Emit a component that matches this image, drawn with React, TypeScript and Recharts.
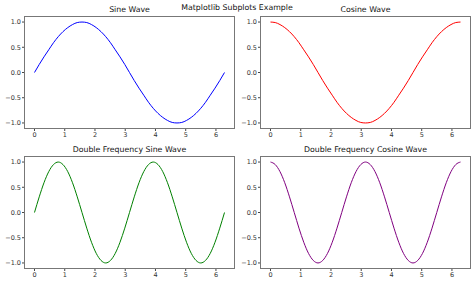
import { type FC } from "react";
import { LineChart, Line, XAxis, YAxis } from "recharts";

// x samples from 0 to 2π
const xs = [
  0, 0.157, 0.314, 0.471, 0.628, 0.785, 0.942, 1.1, 1.257, 1.414, 1.571,
  1.728, 1.885, 2.042, 2.199, 2.356, 2.513, 2.67, 2.827, 2.985, 3.142,
  3.299, 3.456, 3.613, 3.77, 3.927, 4.084, 4.241, 4.398, 4.555, 4.712,
  4.869, 5.027, 5.184, 5.341, 5.498, 5.655, 5.812, 5.969, 6.126, 6.283,
];

const sineValues = [
  0, 0.16, 0.31, 0.45, 0.59, 0.71, 0.81, 0.89, 0.95, 0.99, 1, 0.99, 0.95,
  0.89, 0.81, 0.71, 0.59, 0.45, 0.31, 0.16, 0, -0.16, -0.31, -0.45, -0.59,
  -0.71, -0.81, -0.89, -0.95, -0.99, -1, -0.99, -0.95, -0.89, -0.81, -0.71,
  -0.59, -0.45, -0.31, -0.16, 0,
];

const cosineValues = [
  1, 0.99, 0.95, 0.89, 0.81, 0.71, 0.59, 0.45, 0.31, 0.16, 0, -0.16, -0.31,
  -0.45, -0.59, -0.71, -0.81, -0.89, -0.95, -0.99, -1, -0.99, -0.95, -0.89,
  -0.81, -0.71, -0.59, -0.45, -0.31, -0.16, 0, 0.16, 0.31, 0.45, 0.59, 0.71,
  0.81, 0.89, 0.95, 0.99, 1,
];

const doubleSineValues = [
  0, 0.31, 0.59, 0.81, 0.95, 1, 0.95, 0.81, 0.59, 0.31, 0, -0.31, -0.59,
  -0.81, -0.95, -1, -0.95, -0.81, -0.59, -0.31, 0, 0.31, 0.59, 0.81, 0.95, 1,
  0.95, 0.81, 0.59, 0.31, 0, -0.31, -0.59, -0.81, -0.95, -1, -0.95, -0.81,
  -0.59, -0.31, 0,
];

const doubleCosineValues = [
  1, 0.95, 0.81, 0.59, 0.31, 0, -0.31, -0.59, -0.81, -0.95, -1, -0.95, -0.81,
  -0.59, -0.31, 0, 0.31, 0.59, 0.81, 0.95, 1, 0.95, 0.81, 0.59, 0.31, 0,
  -0.31, -0.59, -0.81, -0.95, -1, -0.95, -0.81, -0.59, -0.31, 0, 0.31, 0.59,
  0.81, 0.95, 1,
];

const xTicks = [0, 1, 2, 3, 4, 5, 6];
const yTicks = [-1, -0.5, 0, 0.5, 1];

const FONT = "'DejaVu Sans', sans-serif";
const tickStyle = { fill: "#333", fontSize: 6.5, fontFamily: FONT };
const frameColor = "#777";

const fmtY = (v: number) => {
  const s = Math.abs(v).toFixed(1);
  return v < 0 ? `\u2212${s}` : s;
};

interface PanelProps {
  title: string;
  values: number[];
  color: string;
  left: number;
  top: number;
}

const Panel: FC<PanelProps> = ({ title, values, color, left, top }) => {
  const data = xs.map((x, i) => ({ x, y: values[i] }));
  return (
    <div style={{ position: "absolute", left, top, width: 240, height: 140 }}>
      <div
        style={{
          position: "absolute",
          left: 25,
          width: 209,
          top: 5,
          lineHeight: "10px",
          textAlign: "center",
          fontFamily: FONT,
          fontSize: 7.8,
          color: "#111",
        }}
      >
        {title}
      </div>
      <LineChart
        width={240}
        height={140}
        data={data}
        margin={{ top: 17, right: 6, bottom: 0, left: 0 }}
      >
        <XAxis
          dataKey="x"
          type="number"
          domain={[-0.314, 6.597]}
          ticks={xTicks}
          allowDataOverflow
          height={12}
          tickSize={3}
          tickMargin={1}
          tick={tickStyle}
          axisLine={false}
          tickLine={{ stroke: "#444" }}
        />
        <YAxis
          type="number"
          domain={[-1.1, 1.1]}
          ticks={yTicks}
          allowDataOverflow
          width={25}
          tickSize={3}
          tickMargin={1}
          tick={tickStyle}
          tickFormatter={fmtY}
          axisLine={false}
          tickLine={{ stroke: "#444" }}
        />
        <Line
          type="monotone"
          dataKey="y"
          stroke={color}
          strokeWidth={1}
          dot={false}
          isAnimationActive={false}
        />
      </LineChart>
      {/* axes frame, matplotlib style box on all four sides */}
      <div
        style={{
          position: "absolute",
          left: 24,
          top: 16,
          width: 211,
          height: 113,
          boxSizing: "border-box",
          border: `1px solid ${frameColor}`,
          pointerEvents: "none",
        }}
      />
    </div>
  );
};

export default function App() {
  return (
    <div
      style={{
        position: "absolute",
        left: 0,
        top: 0,
        width: 474,
        height: 284,
        background: "#fff",
      }}
    >
      <div
        style={{
          position: "absolute",
          left: 0,
          width: 474,
          top: 3,
          lineHeight: "10px",
          textAlign: "center",
          fontFamily: FONT,
          fontSize: 7.8,
          color: "#111",
        }}
      >
        Matplotlib Subplots Example
      </div>
      <Panel title="Sine Wave" values={sineValues} color="#0000ff" left={0} top={0} />
      <Panel title="Cosine Wave" values={cosineValues} color="#ff0000" left={236} top={0} />
      <Panel
        title="Double Frequency Sine Wave"
        values={doubleSineValues}
        color="#008000"
        left={0}
        top={140}
      />
      <Panel
        title="Double Frequency Cosine Wave"
        values={doubleCosineValues}
        color="#800080"
        left={236}
        top={140}
      />
    </div>
  );
}
